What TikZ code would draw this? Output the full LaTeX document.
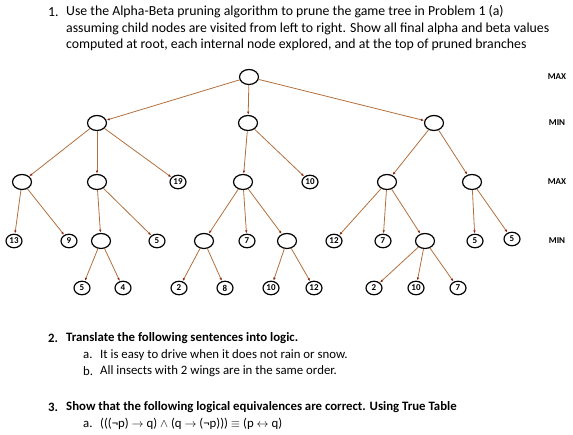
\documentclass[tikz,border=0pt]{standalone}
\usepackage{fontspec}
\setmainfont{Carlito}
\usetikzlibrary{shapes.geometric,arrows.meta}
\definecolor{branch}{RGB}{178,112,62}
\definecolor{tipred}{RGB}{140,40,20}

\begin{document}
\begin{tikzpicture}[x=1pt,y=-1pt,
  inner/.style={draw,ellipse,line width=1.2pt,minimum width=19pt,minimum height=15pt,inner sep=0pt},
  leaf/.style={draw,ellipse,line width=1.2pt,minimum width=16pt,minimum height=13.5pt,inner sep=0pt,font=\bfseries\fontsize{9}{10}\selectfont},
  edge/.style={draw=branch,line width=0.8pt,-{Latex[length=3pt,width=2.5pt,color=tipred]},shorten >=0.3pt},
  level/.style={font=\bfseries\fontsize{9}{10}\selectfont},
  line/.style={anchor=west,inner sep=0pt,font=\fontsize{13.8}{16}\selectfont},
  smallline/.style={anchor=west,inner sep=0pt,font=\fontsize{12.8}{15}\selectfont},
  boldline/.style={anchor=west,inner sep=0pt,font=\bfseries\fontsize{12.8}{15}\selectfont}]
  \useasboundingbox (0,0) rectangle (573,435);

  % question 1
  \node[line] (n1) at (48,12) {1.};
  \node[line] (q1a) at (66,12) {Use the Alpha-Beta pruning algorithm to prune the game tree in Problem 1 (a)};
  \node[line] (q1b) at (66,28.5) {assuming child nodes are visited from left to right. Show all final alpha and beta values};
  \node[line] (q1c) at (66,45) {computed at root, each internal node explored, and at the top of pruned branches};

  % level labels
  \node[level] (lv1) at (557,77) {MAX};
  \node[level] (lv2) at (557,123) {MIN};
  \node[level] (lv3) at (557,182) {MAX};
  \node[level] (lv4) at (557,241) {MIN};

  % tree
  \node[inner] (root) at (249,77) {};
  \node[inner] (A) at (97,123) {};
  \node[inner] (B) at (248,123) {};
  \node[inner] (C) at (434,123) {};
  \node[inner] (A1) at (22,182) {};
  \node[inner] (A2) at (97,182) {};
  \node[leaf] (l19) at (178,182) {19};
  \node[inner] (B1) at (243,182) {};
  \node[leaf] (l10a) at (310,182) {10};
  \node[inner] (C1) at (387,182) {};
  \node[inner] (C2) at (472,182) {};
  \node[leaf] (l13) at (14,241) {13};
  \node[leaf] (l9) at (69,241) {9};
  \node[inner] (D) at (101,241) {};
  \node[leaf] (l5a) at (157,241) {5};
  \node[inner] (E) at (204,241) {};
  \node[leaf] (l7a) at (247,241) {7};
  \node[inner] (F) at (287,241) {};
  \node[leaf] (l12a) at (334,241) {12};
  \node[leaf] (l7b) at (383,241) {7};
  \node[inner] (G) at (425,241) {};
  \node[leaf] (l5b) at (475,241) {5};
  \node[leaf] (l5c) at (512,239) {5};
  \node[leaf] (l5d) at (82,288) {5};
  \node[leaf] (l4) at (123,288) {4};
  \node[leaf] (l2a) at (179,288) {2};
  \node[leaf] (l8) at (225,288) {8};
  \node[leaf] (l10b) at (271,288) {10};
  \node[leaf] (l12b) at (314,288) {12};
  \node[leaf] (l2b) at (374,288) {2};
  \node[leaf] (l10c) at (416,288) {10};
  \node[leaf] (l7c) at (458,288) {7};

  \draw[edge] (root) -- (A);
  \draw[edge] (root) -- (B);
  \draw[edge] (root) -- (C);
  \draw[edge] (A) -- (A1);
  \draw[edge] (A) -- (A2);
  \draw[edge] (A) -- (l19);
  \draw[edge] (B) -- (B1);
  \draw[edge] (B) -- (l10a);
  \draw[edge] (C) -- (C1);
  \draw[edge] (C) -- (C2);
  \draw[edge] (A1) -- (l13);
  \draw[edge] (A1) -- (l9);
  \draw[edge] (A2) -- (D);
  \draw[edge] (A2) -- (l5a);
  \draw[edge] (B1) -- (E);
  \draw[edge] (B1) -- (l7a);
  \draw[edge] (B1) -- (F);
  \draw[edge] (C1) -- (l12a);
  \draw[edge] (C1) -- (l7b);
  \draw[edge] (C1) -- (G);
  \draw[edge] (C2) -- (l5b);
  \draw[edge] (C2) -- (l5c);
  \draw[edge] (D) -- (l5d);
  \draw[edge] (D) -- (l4);
  \draw[edge] (E) -- (l2a);
  \draw[edge] (E) -- (l8);
  \draw[edge] (F) -- (l10b);
  \draw[edge] (F) -- (l12b);
  \draw[edge] (G) -- (l2b);
  \draw[edge] (G) -- (l10c);
  \draw[edge] (G) -- (l7c);

  % question 2
  \node[boldline] (n2) at (48,338) {2.};
  \node[boldline] (q2) at (66,338) {Translate the following sentences into logic.};
  \node[smallline] (n2a) at (83,355) {a.};
  \node[smallline] (q2a) at (100,355) {It is easy to drive when it does not rain or snow.};
  \node[smallline] (n2b) at (83,371) {b.};
  \node[smallline] (q2b) at (100,371) {All insects with 2 wings are in the same order.};

  % question 3
  \node[boldline] (n3) at (48,407) {3.};
  \node[boldline] (q3) at (66,407) {Show that the following logical equivalences are correct. Using True Table};
  \node[smallline] (n3a) at (83,424) {a.};
  \node[smallline] (q3a) at (100,424) {(((¬p) $\rightarrow$ q) $\wedge$ (q $\rightarrow$ (¬p))) $\equiv$ (p $\leftrightarrow$ q)};
\end{tikzpicture}
\end{document}
